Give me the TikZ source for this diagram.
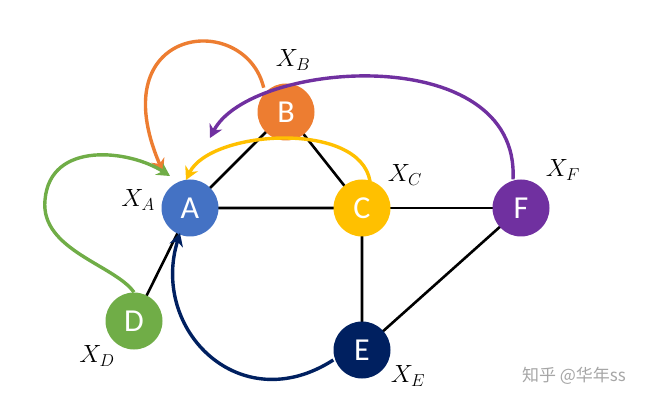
\documentclass[tikz,border=0pt]{standalone}
\usepackage{fontspec}
\setsansfont{Carlito}
\newfontfamily\cjk{Noto Sans CJK SC}
\usetikzlibrary{arrows.meta}
\definecolor{cA}{HTML}{4472C4}
\definecolor{cB}{HTML}{ED7D31}
\definecolor{cC}{HTML}{FFC000}
\definecolor{cD}{HTML}{70AD47}
\definecolor{cE}{HTML}{002060}
\definecolor{cF}{HTML}{7030A0}
\begin{document}
\begin{tikzpicture}[x=1pt,y=-1pt,
  vert/.style={circle,minimum size=57pt,inner sep=0pt,text=white,font=\sffamily\fontsize{32}{32}\selectfont},
  edge/.style={line width=2.6pt,black},
  loopa/.style={line width=3.4pt,-{Stealth[length=13pt,width=14pt]}},
  lab/.style={font=\fontsize{24}{24}\selectfont}]
\useasboundingbox (0,0) rectangle (650,403);
\draw[edge] (190,208) -- (286,112) -- (362,208) -- (190,208);
\draw[edge] (362,208) -- (521,208);
\draw[edge] (190,208) -- (134,321);
\draw[edge] (362,208) -- (362,350) -- (521,208);
\node[vert,fill=cA] (A) at (190,208) {A};
\node[vert,fill=cB] (B) at (286,112) {B};
\node[vert,fill=cC] (C) at (362,208) {C};
\node[vert,fill=cF] (F) at (521,208) {F};
\node[vert,fill=cD] (D) at (134,321) {D};
\node[vert,fill=cE] (E) at (362,350) {E};
\draw[loopa,cB] (B.north west) ++(-2,-4) .. controls (245,10) and (100,25) .. (163,172);
\draw[loopa,cD] (D.north) .. controls (115,265) and (40,250) .. (45,200) .. controls (50,140) and (130,150) .. (170,176);
\draw[loopa,cC] (C.north) ++(8,2) .. controls (360,120) and (210,130) .. (186,180);
\draw[loopa,cF] (F.north) ++(-8,0) .. controls (520,40) and (250,60) .. (210,138);
\draw[loopa,cE] (E.west) ++(0,10) .. controls (240,420) and (150,330) .. (180,233);
\node[lab] (xa) at (138,200) {$X_A$};
\node[lab] (xb) at (293,60) {$X_B$};
\node[lab] (xc) at (405,175) {$X_C$};
\node[lab] (xf) at (563,170) {$X_F$};
\node[lab] (xd) at (97,356) {$X_D$};
\node[lab] (xe) at (408,376) {$X_E$};
\node[text=gray!70,font=\fontsize{17}{17}\selectfont] (wm) at (574,376) {\cjk 知乎 @华年ss};
\end{tikzpicture}
\end{document}
